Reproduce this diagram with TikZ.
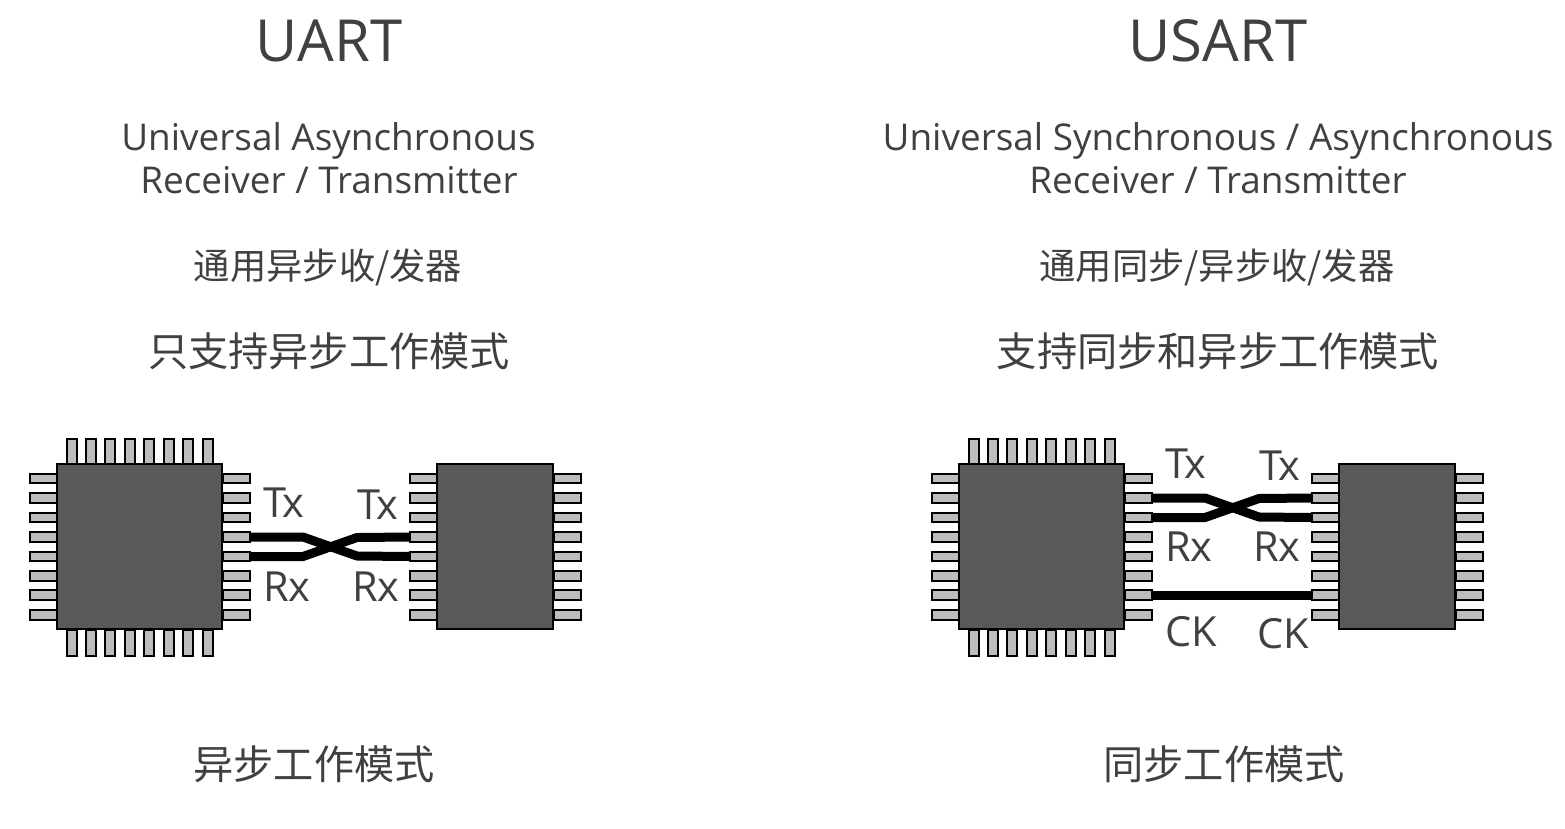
\documentclass[tikz,border=0pt]{standalone}
\usepackage{fontspec}
\setmainfont{Open Sans}
\newfontfamily\cjk{Noto Sans CJK SC}
\definecolor{txt}{HTML}{404040}
\definecolor{pinfill}{HTML}{BDBDBD}
\definecolor{chipfill}{HTML}{595959}
\newcommand{\Tx}{T\kern-4pt x}
\tikzset{
  chipbox/.style={draw=black,line width=2pt,fill=chipfill,inner sep=0pt,outer sep=0pt,anchor=north west},
  pinh/.style={draw=black,line width=2pt,fill=pinfill,inner sep=0pt,outer sep=0pt,minimum width=27pt,minimum height=9.6pt},
  pinv/.style={draw=black,line width=2pt,fill=pinfill,inner sep=0pt,outer sep=0pt,minimum width=9.6pt,minimum height=26pt},
  wire/.style={draw=black,line width=9pt,line join=round},
  title/.style={text=txt,font=\fontsize{58}{58}\selectfont,inner sep=0pt},
  en/.style={text=txt,font=\fontsize{36.9}{36.9}\selectfont,inner sep=0pt},
  zh/.style={text=txt,font=\cjk\fontsize{36.3}{36.3}\selectfont,inner sep=0pt},
  zhb/.style={text=txt,font=\cjk\fontsize{40.2}{40.2}\selectfont,inner sep=0pt},
  sig/.style={text=txt,font=\fontsize{41.5}{41.5}\selectfont,inner sep=0pt},
}
\newcommand{\leftpins}[3]{% name, x of chip edge, chip top
  \foreach \i/\d in {1/14.5,2/34,3/53.5,4/73,5/92.5,6/112,7/131,8/151}
    \node[pinh] (#1-\i) at (#2-13.5,#3+\d) {};}
\newcommand{\rightpins}[3]{%
  \foreach \i/\d in {1/14.5,2/34,3/53.5,4/73,5/92.5,6/112,7/131,8/151}
    \node[pinh] (#1-\i) at (#2+14,#3+\d) {};}
\newcommand{\toppins}[2]{%
  \foreach \i/\d in {1/15,2/34,3/53,4/73,5/92,6/112,7/131,8/151}
    \node[pinv] (#1-\i) at (#2+\d,451.5) {};}
\newcommand{\botpins}[2]{%
  \foreach \i/\d in {1/15,2/34,3/53,4/73,5/92,6/112,7/131,8/151}
    \node[pinv] (#1-\i) at (#2+\d,642.5) {};}
\begin{document}
\begin{tikzpicture}[x=1pt,y=-1pt]
\useasboundingbox (0,0) rectangle (1565,828);
% titles
\node[title] (t1) at (329,41) {UART};
\node[title] (t2) at (1218,41) {USART};
\node[en] (e1a) at (328.5,141) {Universal Asynchronous};
\node[en] (e1b) at (329,180) {Receiver / Transmitter};
\node[en] (e2a) at (1218,141) {Universal Synchronous / Asynchronous};
\node[en] (e2b) at (1218,180) {Receiver / Transmitter};
\node[zh] (z1) at (328,267) {通用异步收/发器};
\node[zh] (z2) at (1217,267) {通用同步/异步收/发器};
\node[zhb] (m1) at (329,351) {只支持异步工作模式};
\node[zhb] (m2) at (1218,351) {支持同步和异步工作模式};
\node[zhb] (b1) at (314,764) {异步工作模式};
\node[zhb] (b2) at (1224,764) {同步工作模式};
% left pair
\leftpins{aL}{57}{464}
\rightpins{aR}{222}{464}
\toppins{aT}{57}
\botpins{aB}{57}
\node[chipbox,minimum width=165pt,minimum height=165pt] (A) at (57,464) {};
\leftpins{bL}{437}{464}
\rightpins{bR}{553}{464}
\node[chipbox,minimum width=116pt,minimum height=165pt] (B) at (437,464) {};
% right pair
\leftpins{cL}{959}{464}
\rightpins{cR}{1124}{464}
\toppins{cT}{959}
\botpins{cB}{959}
\node[chipbox,minimum width=165pt,minimum height=165pt] (C) at (959,464) {};
\leftpins{dL}{1339}{464}
\rightpins{dR}{1455}{464}
\node[chipbox,minimum width=116pt,minimum height=165pt] (D) at (1339,464) {};
% wires left
\draw[wire] ([xshift=1.5pt]aR-4.east) -- ++(52,0) -- ++(54,19) -- (bL-5.west);
\draw[wire] ([xshift=1.5pt]aR-5.east) -- ++(52,0) -- ++(54,-19) -- (bL-4.west);
% wires right
\draw[wire] ([xshift=1.5pt]cR-2.east) -- ++(52,0) -- ++(54,19) -- (dL-3.west);
\draw[wire] ([xshift=1.5pt]cR-3.east) -- ++(52,0) -- ++(54,-19) -- (dL-2.west);
\draw[wire] ([xshift=1.5pt]cR-7.east) -- (dL-7.west);
% signal labels
\node[sig] (s1) at (284,503) {\Tx};
\node[sig] (s2) at (378,505) {\Tx};
\node[sig] (s3) at (287,587) {Rx};
\node[sig] (s4) at (376,587) {Rx};
\node[sig] (s5) at (1186,464) {\Tx};
\node[sig] (s6) at (1280,466) {\Tx};
\node[sig] (s7) at (1189,547) {Rx};
\node[sig] (s8) at (1277,547) {Rx};
\node[sig] (s9) at (1191,632) {CK};
\node[sig] (s10) at (1283,634) {CK};
\end{tikzpicture}
\end{document}
